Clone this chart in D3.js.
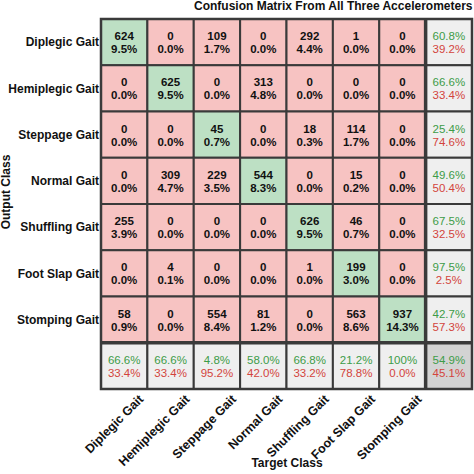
<!DOCTYPE html>
<html>
<head>
<meta charset="utf-8">
<script src="https://cdn.jsdelivr.net/npm/d3@7"></script>
<style>
  body { margin: 0; background: #fff; }
  svg { display: block; font-family: Arial, "Liberation Sans", sans-serif; }
</style>
</head>
<body>
<div id="chart"></div>
<script>
// gait classes (rows = output class, columns = target class)
const classes = ["Diplegic Gait", "Hemiplegic Gait", "Steppage Gait", "Normal Gait",
  "Shuffling Gait", "Foot Slap Gait", "Stomping Gait"];

const counts = [
  [624, 0, 109, 0, 292, 1, 0],
  [0, 625, 0, 313, 0, 0, 0],
  [0, 0, 45, 0, 18, 114, 0],
  [0, 309, 229, 544, 0, 15, 0],
  [255, 0, 0, 0, 626, 46, 0],
  [0, 4, 0, 0, 1, 199, 0],
  [58, 0, 554, 81, 0, 563, 937]
];

const cellPct = [
  [9.5, 0.0, 1.7, 0.0, 4.4, 0.0, 0.0],
  [0.0, 9.5, 0.0, 4.8, 0.0, 0.0, 0.0],
  [0.0, 0.0, 0.7, 0.0, 0.3, 1.7, 0.0],
  [0.0, 4.7, 3.5, 8.3, 0.0, 0.2, 0.0],
  [3.9, 0.0, 0.0, 0.0, 9.5, 0.7, 0.0],
  [0.0, 0.1, 0.0, 0.0, 0.0, 3.0, 0.0],
  [0.9, 0.0, 8.4, 1.2, 0.0, 8.6, 14.3]
];

const rowPrecision = [60.8, 66.6, 25.4, 49.6, 67.5, 97.5, 42.7];
const colRecall = [66.6, 66.6, 4.8, 58.0, 66.8, 21.2, 100];
const overallAcc = 54.9;

const W = 474, H = 474;
const svg = d3.select("#chart").append("svg").attr("width", W).attr("height", H);

const keys = d3.range(8); // 7 classes + summary
const x = d3.scaleBand().domain(keys).range([101, 472]);
const y = d3.scaleBand().domain(keys).range([19, 389]);

const GREEN_CELL = "#bde0c4", RED_CELL = "#f7c3c2", GRAY_CELL = "#efefef", DARK_CELL = "#d3d3d3";
const GREEN_TXT = "#3d9c48", RED_TXT = "#d3443c", LINE = "#3a3a3a";

const fmt = v => (v === 100 ? "100%" : v.toFixed(1) + "%");

// build cell table from arrays
const cells = [];
counts.forEach((row, i) => row.forEach((v, j) => {
  cells.push({ r: i, c: j, kind: i === j ? "diag" : "off", t1: String(v), t2: cellPct[i][j].toFixed(1) + "%" });
}));
rowPrecision.forEach((v, i) => cells.push({ r: i, c: 7, kind: "sum", t1: fmt(v), t2: fmt(+(100 - v).toFixed(1)) }));
colRecall.forEach((v, j) => cells.push({ r: 7, c: j, kind: "sum", t1: fmt(v), t2: fmt(+(100 - v).toFixed(1)) }));
cells.push({ r: 7, c: 7, kind: "total", t1: fmt(overallAcc), t2: fmt(+(100 - overallAcc).toFixed(1)) });

const fill = { diag: GREEN_CELL, off: RED_CELL, sum: GRAY_CELL, total: DARK_CELL };
const isSum = d => d.kind === "sum" || d.kind === "total";

const g = svg.append("g");
const cg = g.selectAll("g.cell").data(cells).join("g").attr("class", "cell")
  .attr("transform", d => `translate(${x(d.c)},${y(d.r)})`);

cg.append("rect")
  .attr("width", x.bandwidth()).attr("height", y.bandwidth())
  .attr("fill", d => fill[d.kind])
  .attr("stroke", LINE).attr("stroke-width", 2);

const cx = x.bandwidth() / 2, cy = y.bandwidth() / 2;
cg.append("text")
  .attr("x", cx).attr("y", cy - 2)
  .attr("text-anchor", "middle")
  .attr("font-size", 11.5)
  .attr("font-weight", d => isSum(d) ? "normal" : "bold")
  .attr("fill", d => isSum(d) ? GREEN_TXT : "#111")
  .text(d => d.t1);
cg.append("text")
  .attr("x", cx).attr("y", cy + 11)
  .attr("text-anchor", "middle")
  .attr("font-size", 11.5)
  .attr("font-weight", d => isSum(d) ? "normal" : "bold")
  .attr("fill", d => isSum(d) ? RED_TXT : "#111")
  .text(d => d.t2);

// thicker separators and outer frame
g.append("line").attr("x1", x(7)).attr("x2", x(7)).attr("y1", y(0)).attr("y2", y.range()[1])
  .attr("stroke", LINE).attr("stroke-width", 3.5);
g.append("line").attr("x1", x(0)).attr("x2", x.range()[1]).attr("y1", y(7)).attr("y2", y(7))
  .attr("stroke", LINE).attr("stroke-width", 3.5);
g.append("rect").attr("x", x(0)).attr("y", y(0))
  .attr("width", x.range()[1] - x(0)).attr("height", y.range()[1] - y(0))
  .attr("fill", "none").attr("stroke", LINE).attr("stroke-width", 2.5);

// row labels
svg.selectAll("text.ylab").data(classes).join("text").attr("class", "ylab")
  .attr("x", 99).attr("y", (d, i) => y(i) + y.bandwidth() / 2)
  .attr("dy", "0.35em")
  .attr("text-anchor", "end").attr("font-size", 12).attr("font-weight", "bold").attr("fill", "#111")
  .text(d => d);

// column labels
svg.selectAll("text.xlab").data(classes).join("text").attr("class", "xlab")
  .attr("transform", (d, i) => `translate(${x(i) + x.bandwidth() / 2 + 20},${400}) rotate(-45)`)
  .attr("text-anchor", "end").attr("font-size", 12.5).attr("font-weight", "bold").attr("fill", "#111")
  .text(d => d);

// titles
svg.append("text").attr("x", 194).attr("y", 10)
  .attr("font-size", 12).attr("font-weight", "bold").attr("fill", "#111")
  .text("Confusion Matrix From All Three Accelerometers");
svg.append("text").attr("x", 287).attr("y", 467).attr("text-anchor", "middle")
  .attr("font-size", 12).attr("font-weight", "bold").attr("fill", "#111")
  .text("Target Class");
svg.append("text").attr("transform", "translate(10,192) rotate(-90)").attr("text-anchor", "middle")
  .attr("font-size", 12).attr("font-weight", "bold").attr("fill", "#111")
  .text("Output Class");
</script>
</body>
</html>
